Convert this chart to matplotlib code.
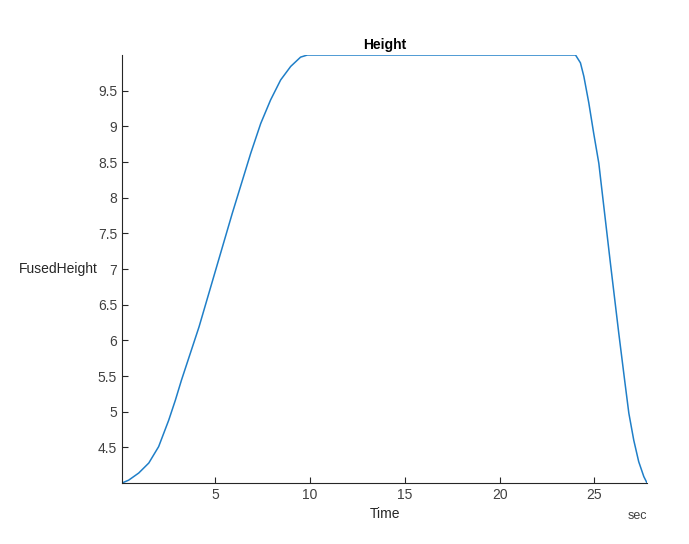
import numpy as np
import matplotlib
matplotlib.use("Agg")
import matplotlib.pyplot as plt

# values
time_sec = [0.10, 0.45, 0.98, 1.51, 2.03, 2.56, 2.91, 3.23, 4.16, 5.04, 5.91,
            6.88, 7.41, 7.93, 8.46, 8.99, 9.51, 9.87, 12.0, 16.0, 20.0, 24.0,
            24.26, 24.44, 24.70, 24.96, 25.23, 25.32, 25.84, 26.28, 26.59,
            26.81, 27.07, 27.33, 27.60, 27.77]
fused_height = [4.0, 4.04, 4.14, 4.28, 4.51, 4.88, 5.16, 5.44, 6.19, 6.99,
                7.78, 8.62, 9.04, 9.37, 9.65, 9.84, 9.97, 10.0, 10.0, 10.0,
                10.0, 10.0, 9.89, 9.70, 9.33, 8.90, 8.48, 8.27, 7.08, 6.10,
                5.44, 4.98, 4.60, 4.30, 4.09, 4.0]

x_ticks = [5, 10, 15, 20, 25]
y_ticks = [4.5, 5, 5.5, 6, 6.5, 7, 7.5, 8, 8.5, 9, 9.5]

plt.rcParams['font.family'] = ['Liberation Sans', 'DejaVu Sans']

fig = plt.figure(figsize=(6.89, 5.44), dpi=100)
ax = fig.add_axes([0.1771, 0.1121, 0.762, 0.7868])

ax.plot(time_sec, fused_height, color='#1f7fc8', linewidth=1.1,
        solid_joinstyle='round')

ax.set_xlim(time_sec[0], time_sec[-1])
ax.set_ylim(4, 10)
ax.set_xticks(x_ticks)
ax.set_yticks(y_ticks)
ax.set_yticklabels(['{:g}'.format(v) for v in y_ticks])

for side in ['top', 'right']:
    ax.spines[side].set_visible(False)
for side in ['left', 'bottom']:
    ax.spines[side].set_color('#262626')
    ax.spines[side].set_linewidth(0.8)

ax.tick_params(direction='in', length=4, width=0.8, color='#262626',
               labelcolor='#404040', labelsize=10)

ax.set_title('Height', fontsize=10, fontweight='bold', color='#000000', pad=4)
ax.set_xlabel('Time', fontsize=10, color='#262626', labelpad=4)
ax.set_ylabel('FusedHeight', fontsize=10, color='#262626', rotation=0,
              ha='right', va='center')
ax.yaxis.set_label_coords(-0.046, 0.5)
ax.text(1.0, -0.062, 'sec', transform=ax.transAxes, ha='right', va='top',
        fontsize=9, color='#404040')

fig.savefig('out.png', dpi=100)
